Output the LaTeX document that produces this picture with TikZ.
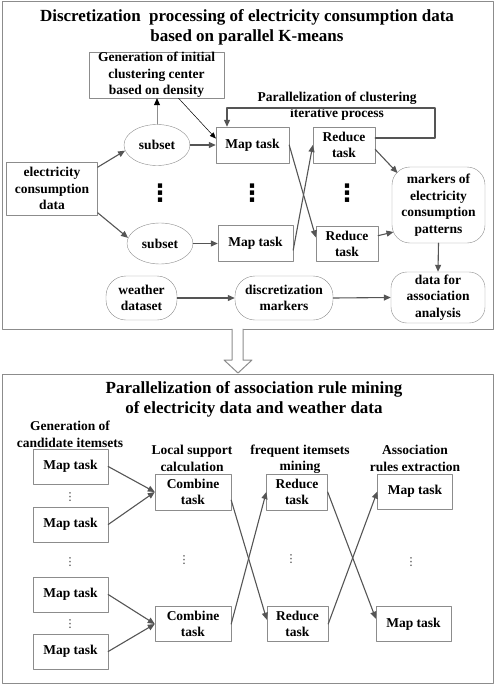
\documentclass[tikz,border=0pt]{standalone}
\usepackage{fontspec}
\setmainfont{Liberation Serif}
\newfontfamily\symfont{DejaVu Sans}
\usetikzlibrary{arrows.meta,positioning,calc,shapes.geometric}
\definecolor{framegray}{HTML}{8C8C8C}
\definecolor{arrowgray}{HTML}{555555}
\tikzset{every picture/.style={line cap=round, line join=round}}
\tikzset{box/.style={draw=framegray, rectangle, align=center, inner sep=0pt,
  font=\bfseries\fontsize{13.5}{16.5}\selectfont}}
\tikzset{oval/.style={box, ellipse, minimum width=66pt, minimum height=41pt}}
\tikzset{rbox/.style={box, rounded corners=16pt}}
\tikzset{task/.style={box, minimum width=75pt, minimum height=35pt}}
\tikzset{label/.style={align=center, inner sep=0pt, font=\bfseries\fontsize{13.5}{16.5}\selectfont}}
\tikzset{heading/.style={align=center, inner sep=0pt, font=\bfseries\fontsize{17}{20}\selectfont}}
\tikzset{bigdots/.style={inner sep=0pt, font=\symfont\bfseries\fontsize{24}{24}\selectfont}}
\tikzset{smalldots/.style={inner sep=0pt, text=black!80, font=\symfont\fontsize{11}{11}\selectfont}}
\tikzset{arrow/.style={-{Triangle[length=7pt,width=6pt]}, draw=arrowgray, line width=1.1pt}}
\tikzset{thin arrow/.style={-{Triangle[length=6pt,width=5pt]}, black, line width=0.5pt}}
\tikzset{up arrow/.style={-{Triangle[length=7pt,width=6pt,color=black]}, draw=framegray, line width=0.7pt}}
\tikzset{frame/.style={draw=framegray, line width=1pt}}

\begin{document}
\begin{tikzpicture}[x=1pt, y=-1pt]
  \useasboundingbox (0,0) rectangle (496,685);

  % upper frame: parallel K-means
  \draw[frame] (2,2) rectangle (493,329);
  \node[heading] (title1) at (247,27)
       {Discretization\ \ processing of electricity consumption data\\based on parallel K-means};
  \node[box, minimum width=135pt, minimum height=46pt] (gen) at (156.5,75)
       {Generation of initial\\clustering center\\based on density};
  \node[label] (iter) at (337,106) {Parallelization of clustering\\iterative process};

  \node[box, minimum width=91pt, minimum height=53pt] (elec) at (52,188.5)
       {electricity\\consumption\\data};
  \node[oval] (sub1) at (157,145) {subset};
  \node[oval] (sub2) at (160,243.5) {subset};
  \node[box, minimum width=73pt, minimum height=36pt] (map1) at (252.5,145) {Map task};
  \node[box, minimum width=75pt, minimum height=36pt] (map2) at (255.5,243.5) {Map task};
  \node[box, minimum width=62pt, minimum height=36pt] (red1) at (344,145) {Reduce\\task};
  \node[box, minimum width=62pt, minimum height=35pt] (red2) at (347,244) {Reduce\\task};
  \node[rbox, rounded corners=18pt, minimum width=93pt, minimum height=76pt] (mark) at (438.5,205)
       {markers of\\electricity\\consumption\\patterns};
  \node[rbox, minimum width=94pt, minimum height=51pt] (assoc) at (438,297.5)
       {data for\\association\\analysis};
  \node[rbox, rounded corners=20pt, minimum width=71pt, minimum height=44pt] (weather) at (141.5,298)
       {weather\\dataset};
  \node[rbox, rounded corners=20pt, minimum width=98pt, minimum height=44pt] (disc) at (284,298)
       {discretization\\markers};

  \node[bigdots] (dotsA) at (160,193) {⋮};
  \node[bigdots] (dotsB) at (252,193) {⋮};
  \node[bigdots] (dotsC) at (347,193) {⋮};

  \draw[arrow] (elec.25) -- (sub1.190);
  \draw[arrow] (elec.-28) -- (sub2.170);
  \draw[up arrow] (sub1.north) -- (sub1.north |- gen.south);
  \draw[thin arrow] ($(gen.south)+(22,0)$) -- (map1.170);
  \draw[arrow] (sub1.east) -- (map1.west);
  \draw[arrow] (sub2.east) -- (map2.west);
  \draw[arrow] (map1.east) -- (red2.168);
  \draw[arrow] (map2.-10) -- (red1.west);
  \draw[arrow] (red1.east |- 0,138) -- (435,138) |- (227,108) -- (map1.north -| 227,0);
  \draw[arrow] (red1.-8) -- ($(mark.center)+(-41,-32)$);
  \draw[arrow] (red2.15) -- ($(mark.center)+(-45,27)$);
  \draw[arrow] (mark.south) -- (assoc.north);
  \draw[arrow] (weather.east) -- (disc.west);
  \draw[arrow] (disc.east) -- (assoc.west);

  % hollow arrow between the frames
  \draw[frame, fill=white] (232,329) -- (232,360) -- (224,360) -- (238,373)
       -- (252,360) -- (243,360) -- (243,329);

  % lower frame: association rule mining
  \draw[frame] (2,374) rectangle (493,683);
  \node[heading] (title2) at (254,399)
       {Parallelization of association rule mining\\of electricity data and weather data};
  \node[label] (hGen)  at (70,434.5)  {Generation of\\candidate itemsets};
  \node[label] (hLoc)  at (192,458.5) {Local support\\calculation};
  \node[label] (hFreq) at (300,459)   {frequent itemsets\\mining};
  \node[label] (hRule) at (415,458.5) {Association\\rules extraction};

  \node[task] (mapL1) at (70.5,466.5) {Map task};
  \node[task] (mapL2) at (70.5,524.5) {Map task};
  \node[task] (mapL3) at (70.5,594.5) {Map task};
  \node[task] (mapL4) at (70.5,651.5) {Map task};
  \node[task, minimum width=76pt, minimum height=36pt] (comb1) at (193,492) {Combine\\task};
  \node[task, minimum width=76pt, minimum height=35pt] (comb2) at (193,624) {Combine\\task};
  \node[task, minimum width=61pt, minimum height=36pt] (redL1) at (297,492) {Reduce\\task};
  \node[task, minimum width=61pt, minimum height=35pt] (redL2) at (297.5,624) {Reduce\\task};
  \node[task] (mapR1) at (415,491.5) {Map task};
  \node[task] (mapR2) at (413.5,624) {Map task};

  \node[smalldots] (dotsL1) at (70,497) {⋮};
  \node[smalldots] (dotsL2) at (70,562) {⋮};
  \node[smalldots] (dotsL3) at (70,624) {⋮};
  \node[smalldots] (dotsM)  at (184,560) {⋮};
  \node[smalldots] (dotsN)  at (291,559) {⋮};
  \node[smalldots] (dotsR)  at (411,562) {⋮};

  \draw[arrow] (mapL1.east) -- (comb1.west);
  \draw[arrow] (mapL2.east) -- (comb1.west);
  \draw[arrow] (mapL3.east) -- (comb2.west);
  \draw[arrow] (mapL4.east) -- (comb2.west);
  \draw[arrow] (comb1.-12) -- (redL2.172);
  \draw[arrow] (comb2.east) -- (redL1.west);
  \draw[arrow] (redL1.east) -- (mapR2.172);
  \draw[arrow] (redL2.east) -- (mapR1.west);
\end{tikzpicture}
\end{document}
